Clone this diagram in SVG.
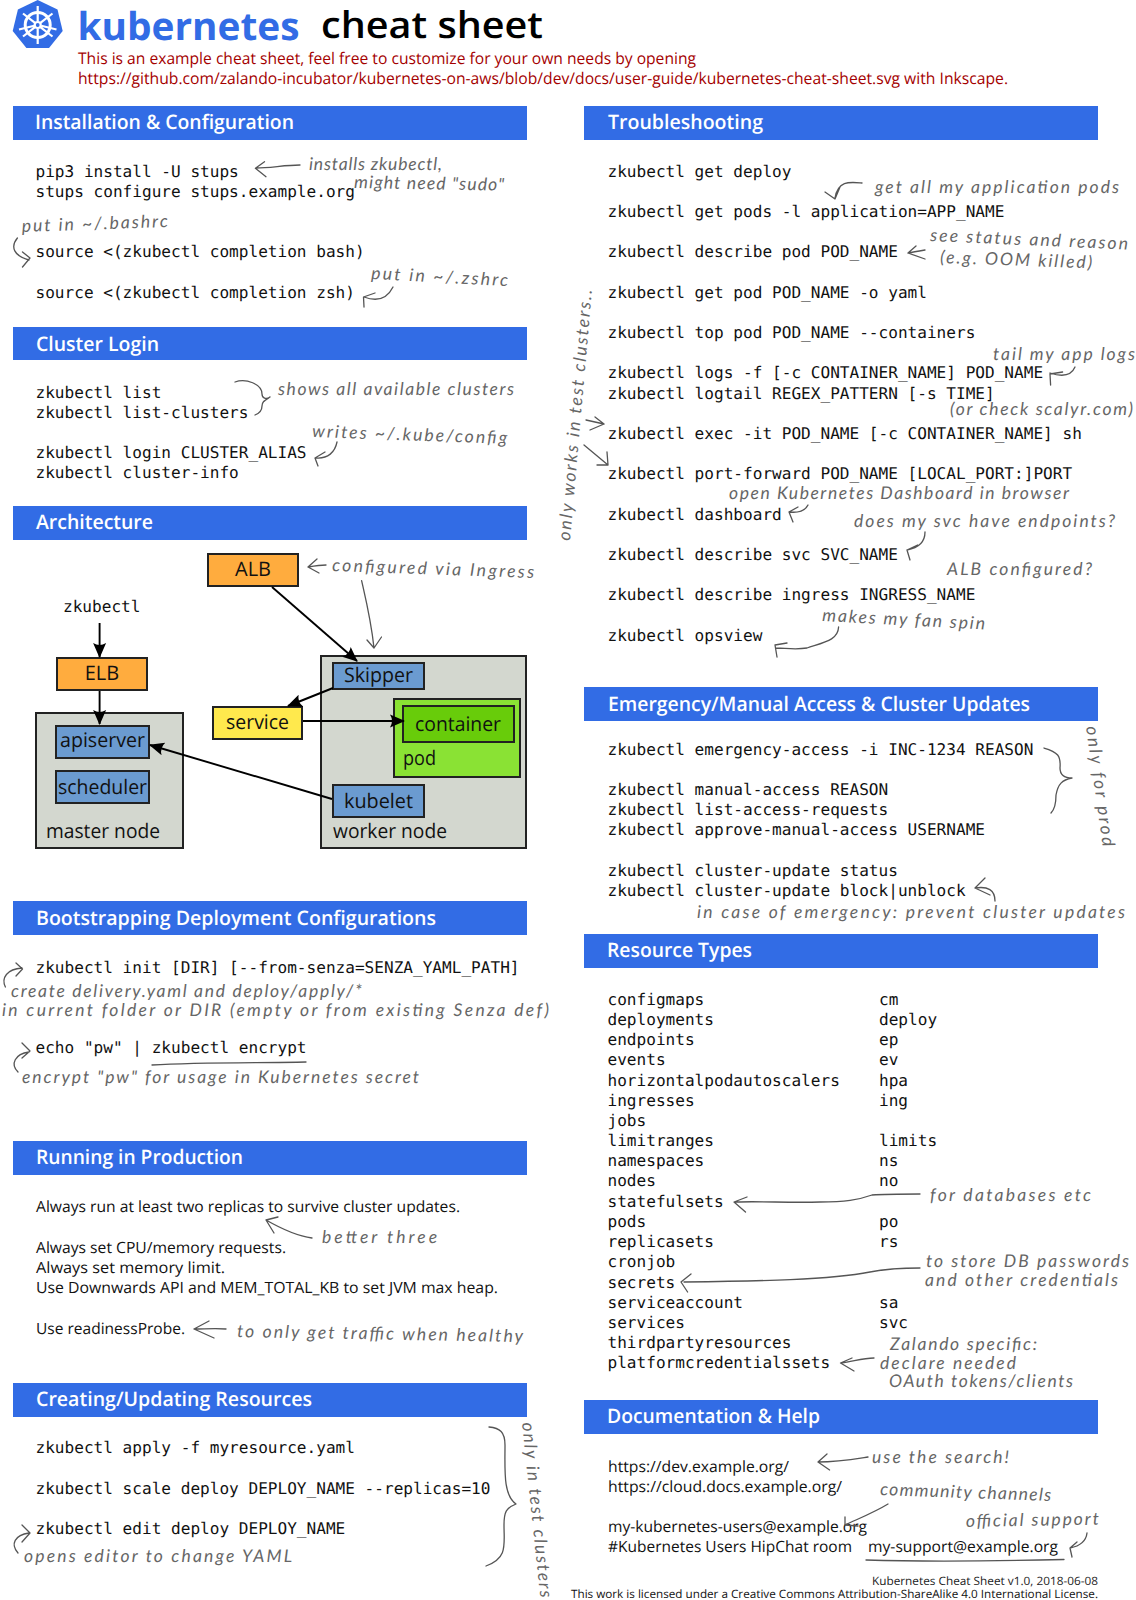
<svg xmlns="http://www.w3.org/2000/svg" width="1136" height="1600" viewBox="0 0 1136 1600">
<style>
text{white-space:pre;text-rendering:geometricPrecision}
.m{font:16.08px "DejaVu Sans Mono",monospace;fill:#111}
.b{fill:#326ce5}
.h{font:600 20px "Open Sans",sans-serif;fill:#fff}
.s{font:15.5px "Open Sans",sans-serif;fill:#111}
.n{font:20px "Open Sans",sans-serif;fill:#111}
.a{font:italic 400 17.5px Lato,sans-serif;fill:#666}
.box{stroke:#222;stroke-width:2}
.g{fill:none;stroke:#555;stroke-width:1.3;stroke-linecap:round;stroke-linejoin:round}
.k{fill:none;stroke:#000;stroke-width:1.9}
</style>
<defs>
<marker id="ah" markerUnits="userSpaceOnUse" markerWidth="18" markerHeight="16" refX="14" refY="8" orient="auto"><path d="M0 1.500 L15 8 L0 14.500 Q4 8 0 1.500Z" fill="#000"/></marker>
</defs>
<rect width="1136" height="1600" fill="#fff"/>
<g id="header">
<g id="logo">
<polygon points="37.700,0 57.500,9.500 62.700,31 49,48 26.400,48 12.700,31 17.900,9.500" fill="#326ce5"/>
<g fill="none" stroke="#fff">
<circle cx="37.700" cy="25" r="12.500" stroke-width="3"/>
<circle cx="37.700" cy="25" r="3" stroke-width="2.200"/>
<path stroke-width="2.200" d="M37.700 6V21.500M37.700 28.500V44M23 13.500L35 22.800M40.400 27.200L52.500 36.500M52.500 13.500L40.400 22.800M35 27.200L23 36.500M19 29.500L34.200 25.800M41.200 25.800L56.500 29.500"/>
</g>
</g>
<text x="77.500" y="40" font-family="Open Sans,sans-serif" font-weight="700" font-size="38.500" fill="#326ce5" textLength="222" lengthAdjust="spacingAndGlyphs">kubernetes</text>
<text x="321" y="37.500" font-family="Open Sans,sans-serif" font-weight="600" font-size="37" fill="#000" textLength="222" lengthAdjust="spacingAndGlyphs">cheat sheet</text>
<text x="78" y="64" font-family="Open Sans,sans-serif" font-size="16" fill="#a40000" textLength="618" lengthAdjust="spacingAndGlyphs">This is an example cheat sheet, feel free to customize for your own needs by opening</text>
<text x="78" y="84" font-family="Open Sans,sans-serif" font-size="16" fill="#a40000" textLength="930" lengthAdjust="spacingAndGlyphs">https://github.com/zalando-incubator/kubernetes-on-aws/blob/dev/docs/user-guide/kubernetes-cheat-sheet.svg with Inkscape.</text>
</g>

<g id="installation">
<rect class="b" x="13" y="106" width="514" height="34"/>
<text class="h" x="35" y="129" textLength="259" lengthAdjust="spacingAndGlyphs">Installation &amp; Configuration</text>
<text class="m" x="35.500" y="177">pip3 install -U stups</text>
<text class="m" x="35.500" y="197">stups configure stups.example.org</text>
<text class="m" x="35.500" y="257">source &lt;(zkubectl completion bash)</text>
<text class="m" x="35.500" y="298">source &lt;(zkubectl completion zsh)</text>
<text class="a" x="309" y="170" textLength="133">installs zkubectl,</text>
<text class="a" x="354" y="188" textLength="150" transform="rotate(1 354 188)">might need "sudo"</text>
<text class="a" x="22" y="232" textLength="146" transform="rotate(-2 22 232)">put in ~/.bashrc</text>
<text class="a" x="371" y="279" textLength="137" transform="rotate(3 371 279)">put in ~/.zshrc</text>
</g>

<g id="cluster-login">
<rect class="b" x="13" y="327" width="514" height="33"/>
<text class="h" x="36" y="351" textLength="123" lengthAdjust="spacingAndGlyphs">Cluster Login</text>
<text class="m" x="35.500" y="397.500">zkubectl list</text>
<text class="m" x="35.500" y="417.500">zkubectl list-clusters</text>
<text class="m" x="35.500" y="458">zkubectl login CLUSTER_ALIAS</text>
<text class="m" x="35.500" y="478">zkubectl cluster-info</text>
<text class="a" x="278" y="395" textLength="236">shows all available clusters</text>
<text class="a" x="312" y="437" textLength="195" transform="rotate(2 312 437)">writes ~/.kube/config</text>
</g>

<g id="architecture">
<rect class="b" x="13" y="506" width="514" height="34"/>
<text class="h" x="36" y="529" textLength="117" lengthAdjust="spacingAndGlyphs">Architecture</text>
<text class="a" x="332" y="571" textLength="202" transform="rotate(2 332 571)">configured via Ingress</text>
</g>
<g id="master-node"><rect class="box" x="36" y="713" width="147" height="135" fill="#d3d7cf"/><text class="n" x="46" y="838" textLength="114" lengthAdjust="spacingAndGlyphs">master node</text></g>
<g id="worker-node"><rect class="box" x="321" y="656" width="205" height="192" fill="#d3d7cf"/><text class="n" x="333" y="838" textLength="114" lengthAdjust="spacingAndGlyphs">worker node</text></g>
<g id="zkubectl"><text class="m" x="63" y="612">zkubectl</text></g>
<g id="alb"><rect class="box" x="208" y="554" width="90" height="32" fill="#ffac3e"/><text class="n" x="253" y="576" text-anchor="middle">ALB</text></g>
<g id="elb"><rect class="box" x="57" y="658" width="90" height="32" fill="#ffac3e"/><text class="n" x="102" y="680" text-anchor="middle">ELB</text></g>
<g id="apiserver"><rect class="box" x="56" y="726" width="93" height="32" fill="#6b9bd0"/><text class="n" x="60" y="747" textLength="85" lengthAdjust="spacingAndGlyphs">apiserver</text></g>
<g id="scheduler"><rect class="box" x="56" y="771" width="93" height="32" fill="#6b9bd0"/><text class="n" x="58" y="794" textLength="89" lengthAdjust="spacingAndGlyphs">scheduler</text></g>
<g id="skipper"><rect class="box" x="333" y="663" width="91" height="26" fill="#6b9bd0"/><text class="n" x="344" y="682" textLength="69" lengthAdjust="spacingAndGlyphs">Skipper</text></g>
<g id="service"><rect class="box" x="213" y="707" width="89" height="32" fill="#ffe94d"/><text class="n" x="226" y="729" textLength="63" lengthAdjust="spacingAndGlyphs">service</text></g>
<g id="pod"><rect class="box" x="394" y="699" width="126" height="78" fill="#8ae234"/><text class="n" x="403" y="765" textLength="33" lengthAdjust="spacingAndGlyphs">pod</text></g>
<g id="container"><rect class="box" x="403" y="706" width="111" height="36" fill="#68cc0a"/><text class="n" x="415" y="731" textLength="86" lengthAdjust="spacingAndGlyphs">container</text></g>
<g id="kubelet"><rect class="box" x="333" y="785" width="91" height="32" fill="#6b9bd0"/><text class="n" x="344" y="808" textLength="69" lengthAdjust="spacingAndGlyphs">kubelet</text></g>

<g id="bootstrapping">
<rect class="b" x="13" y="901" width="514" height="34"/>
<text class="h" x="36" y="925" textLength="400" lengthAdjust="spacingAndGlyphs">Bootstrapping Deployment Configurations</text>
<text class="m" x="35.500" y="973">zkubectl init [DIR] [--from-senza=SENZA_YAML_PATH]</text>
<text class="a" x="11" y="997" textLength="351">create delivery.yaml and deploy/apply/*</text>
<text class="a" x="2" y="1016" textLength="547">in current folder or DIR (empty or from existing Senza def)</text>
<text class="m" x="35.500" y="1053">echo "pw" | zkubectl encrypt</text>
<text class="a" x="22" y="1083" textLength="397">encrypt "pw" for usage in Kubernetes secret</text>
</g>

<g id="production">
<rect class="b" x="13" y="1141" width="514" height="34"/>
<text class="h" x="36" y="1164" textLength="207" lengthAdjust="spacingAndGlyphs">Running in Production</text>
<text class="s" x="36" y="1212" textLength="424" lengthAdjust="spacingAndGlyphs">Always run at least two replicas to survive cluster updates.</text>
<text class="s" x="36" y="1253" textLength="250" lengthAdjust="spacingAndGlyphs">Always set CPU/memory requests.</text>
<text class="s" x="36" y="1273" textLength="189" lengthAdjust="spacingAndGlyphs">Always set memory limit.</text>
<text class="s" x="36" y="1293" textLength="462" lengthAdjust="spacingAndGlyphs">Use Downwards API and MEM_TOTAL_KB to set JVM max heap.</text>
<text class="s" x="36" y="1334" textLength="149" lengthAdjust="spacingAndGlyphs">Use readinessProbe.</text>
<text class="a" x="322" y="1243" textLength="115">better three</text>
<text class="a" x="237" y="1337" textLength="286" transform="rotate(1 237 1337)">to only get traffic when healthy</text>
</g>

<g id="creating">
<rect class="b" x="13" y="1383" width="514" height="34"/>
<text class="h" x="36" y="1406" textLength="276" lengthAdjust="spacingAndGlyphs">Creating/Updating Resources</text>
<text class="m" x="35.500" y="1453">zkubectl apply -f myresource.yaml</text>
<text class="m" x="35.500" y="1493.500">zkubectl scale deploy DEPLOY_NAME --replicas=10</text>
<text class="m" x="35.500" y="1534">zkubectl edit deploy DEPLOY_NAME</text>
<text class="a" x="24" y="1562" textLength="268">opens editor to change YAML</text>
<text class="a" x="522" y="1423" textLength="176" transform="rotate(84 522 1423)">only in test clusters</text>
</g>

<g id="troubleshooting">
<rect class="b" x="584" y="106" width="514" height="34"/>
<text class="h" x="608" y="129" textLength="155" lengthAdjust="spacingAndGlyphs">Troubleshooting</text>
<text class="m" x="607.500" y="177">zkubectl get deploy</text>
<text class="m" x="607.500" y="217">zkubectl get pods -l application=APP_NAME</text>
<text class="m" x="607.500" y="257">zkubectl describe pod POD_NAME</text>
<text class="m" x="607.500" y="298">zkubectl get pod POD_NAME -o yaml</text>
<text class="m" x="607.500" y="338">zkubectl top pod POD_NAME --containers</text>
<text class="m" x="607.500" y="378">zkubectl logs -f [-c CONTAINER_NAME] POD_NAME</text>
<text class="m" x="607.500" y="398.500">zkubectl logtail REGEX_PATTERN [-s TIME]</text>
<text class="m" x="607.500" y="439">zkubectl exec -it POD_NAME [-c CONTAINER_NAME] sh</text>
<text class="m" x="607.500" y="479">zkubectl port-forward POD_NAME [LOCAL_PORT:]PORT</text>
<text class="m" x="607.500" y="519.500">zkubectl dashboard</text>
<text class="m" x="607.500" y="560">zkubectl describe svc SVC_NAME</text>
<text class="m" x="607.500" y="600">zkubectl describe ingress INGRESS_NAME</text>
<text class="m" x="607.500" y="640.500">zkubectl opsview</text>
<text class="a" x="875" y="193" textLength="244">get all my application pods</text>
<text class="a" x="930" y="241" textLength="198" transform="rotate(2.5 930 241)">see status and reason</text>
<text class="a" x="940" y="263" textLength="152" transform="rotate(2 940 263)">(e.g. OOM killed)</text>
<text class="a" x="993" y="360" textLength="142">tail my app logs</text>
<text class="a" x="950" y="414.500" textLength="183">(or check scalyr.com)</text>
<text class="a" x="729" y="499" textLength="340">open Kubernetes Dashboard in browser</text>
<text class="a" x="854" y="527" textLength="261">does my svc have endpoints?</text>
<text class="a" x="947" y="575" textLength="145">ALB configured?</text>
<text class="a" x="822" y="621" textLength="163" transform="rotate(3 822 621)">makes my fan spin</text>
<text class="a" x="570" y="541" textLength="252" transform="rotate(-85 570 541)">only works in test clusters..</text>
</g>

<g id="emergency">
<rect class="b" x="584" y="687" width="514" height="34"/>
<text class="h" x="608" y="711" textLength="422" lengthAdjust="spacingAndGlyphs">Emergency/Manual Access &amp; Cluster Updates</text>
<text class="m" x="607.500" y="754.500">zkubectl emergency-access -i INC-1234 REASON</text>
<text class="m" x="607.500" y="794.500">zkubectl manual-access REASON</text>
<text class="m" x="607.500" y="815">zkubectl list-access-requests</text>
<text class="m" x="607.500" y="835">zkubectl approve-manual-access USERNAME</text>
<text class="m" x="607.500" y="875.500">zkubectl cluster-update status</text>
<text class="m" x="607.500" y="896">zkubectl cluster-update block|unblock</text>
<text class="a" x="697" y="918" textLength="428">in case of emergency: prevent cluster updates</text>
<text class="a" x="1086" y="727" textLength="121" transform="rotate(82 1086 727)">only for prod</text>
</g>

<g id="resource-types">
<rect class="b" x="584" y="934" width="514" height="34"/>
<text class="h" x="607" y="957" textLength="145" lengthAdjust="spacingAndGlyphs">Resource Types</text>
<text class="m" x="607.500" y="1005">configmaps</text><text class="m" x="879" y="1005">cm</text>
<text class="m" x="607.500" y="1025">deployments</text><text class="m" x="879" y="1025">deploy</text>
<text class="m" x="607.500" y="1045">endpoints</text><text class="m" x="879" y="1045">ep</text>
<text class="m" x="607.500" y="1065">events</text><text class="m" x="879" y="1065">ev</text>
<text class="m" x="607.500" y="1085.500">horizontalpodautoscalers</text><text class="m" x="879" y="1085.500">hpa</text>
<text class="m" x="607.500" y="1105.500">ingresses</text><text class="m" x="879" y="1105.500">ing</text>
<text class="m" x="607.500" y="1126">jobs</text>
<text class="m" x="607.500" y="1146">limitranges</text><text class="m" x="879" y="1146">limits</text>
<text class="m" x="607.500" y="1166">namespaces</text><text class="m" x="879" y="1166">ns</text>
<text class="m" x="607.500" y="1186">nodes</text><text class="m" x="879" y="1186">no</text>
<text class="m" x="607.500" y="1206.500">statefulsets</text>
<text class="m" x="607.500" y="1227">pods</text><text class="m" x="879" y="1227">po</text>
<text class="m" x="607.500" y="1247">replicasets</text><text class="m" x="879" y="1247">rs</text>
<text class="m" x="607.500" y="1267">cronjob</text>
<text class="m" x="607.500" y="1287.500">secrets</text>
<text class="m" x="607.500" y="1308">serviceaccount</text><text class="m" x="879" y="1308">sa</text>
<text class="m" x="607.500" y="1328">services</text><text class="m" x="879" y="1328">svc</text>
<text class="m" x="607.500" y="1348">thirdpartyresources</text>
<text class="m" x="607.500" y="1368">platformcredentialssets</text>
<text class="a" x="930" y="1201" textLength="161">for databases etc</text>
<text class="a" x="926" y="1267" textLength="203">to store DB passwords</text>
<text class="a" x="925" y="1286" textLength="193">and other credentials</text>
<text class="a" x="890" y="1350" textLength="147">Zalando specific:</text>
<text class="a" x="880" y="1369" textLength="136">declare needed</text>
<text class="a" x="889" y="1387" textLength="184">OAuth tokens/clients</text>
</g>

<g id="documentation">
<rect class="b" x="584" y="1400" width="514" height="34"/>
<text class="h" x="607" y="1423" textLength="213" lengthAdjust="spacingAndGlyphs">Documentation &amp; Help</text>
<text class="s" x="608" y="1472" textLength="181" lengthAdjust="spacingAndGlyphs">https://dev.example.org/</text>
<text class="s" x="608" y="1492" textLength="234" lengthAdjust="spacingAndGlyphs">https://cloud.docs.example.org/</text>
<text class="s" x="608" y="1532" textLength="259" lengthAdjust="spacingAndGlyphs">my-kubernetes-users@example.org</text>
<text class="s" x="608" y="1552" textLength="244" lengthAdjust="spacingAndGlyphs">#Kubernetes Users HipChat room</text>
<text class="s" x="868" y="1552" textLength="190" lengthAdjust="spacingAndGlyphs">my-support@example.org</text>
<text class="a" x="872" y="1463" textLength="137">use the search!</text>
<text class="a" x="880" y="1495" textLength="171" transform="rotate(2 880 1495)">community channels</text>
<text class="a" x="966" y="1527" textLength="133" transform="rotate(-1 966 1527)">official support</text>
<text x="1098" y="1585" text-anchor="end" font-family="Open Sans,sans-serif" font-size="11.500" fill="#222" textLength="226" lengthAdjust="spacingAndGlyphs">Kubernetes Cheat Sheet v1.0, 2018-06-08</text>
<text x="1098" y="1598" text-anchor="end" font-family="Open Sans,sans-serif" font-size="11.500" fill="#111" textLength="527" lengthAdjust="spacingAndGlyphs">This work is licensed under a Creative Commons Attribution-ShareAlike 4.0 International License.</text>
</g>

<g id="connectors">
<g class="k">
<path marker-end="url(#ah)" d="M99.600 623V657"/>
<path marker-end="url(#ah)" d="M99.600 691V724"/>
<path marker-end="url(#ah)" d="M272 587L357 661"/>
<path marker-end="url(#ah)" d="M333 688L288 706"/>
<path marker-end="url(#ah)" d="M303 721H404"/>
<path marker-end="url(#ah)" d="M332 799L150 745"/>
</g>
<g class="g">
<path d="M300 165C285 165 270 168 256 168M264.500 161.700L255.400 168.300L266 176.700"/>
<path d="M17.400 238C10 247 14 256 29 260M22.500 252L30 258L22.500 267"/>
<path d="M393 287C388 297 380 303 364 297M375 293L363.500 297L364 307"/>
<path d="M235 382C246 378 262 384 262 394C262 398 266 400 270 397C264 401 262 402 262 406C262 410 260 413 255 415"/>
<path d="M337 442C335 452 328 459 316 458M325 452L315 458L318 466"/>
<path d="M326 565C320 565 314 566 308 567M317 559L308 567L319 573"/>
<path d="M361.600 580.700C366 600 371 620 374 648M367 640L374 648L381.500 637"/>
<path d="M5.400 987C1 978 7 969 22 968M16 963L22.500 969L16 976"/>
<path d="M18 1072C10 1064 15 1054 29 1052M22 1043L30 1051L22 1058"/>
<path d="M152 1065C200 1062 260 1063 306 1062"/>
<path d="M312 1238C297 1236 280 1228 266 1220M278 1217L266 1220L274 1233"/>
<path d="M226 1329C216 1328 204 1329 194 1329M209 1321L194 1329L214 1338"/>
<path d="M489 1427C500 1428 505 1432 505 1445C505 1470 503 1495 516 1504C506 1508 504 1512 504 1525C504 1545 508 1558 486 1566"/>
<path d="M18 1553C10 1544 15 1535 29 1533M22 1525L30 1533L22 1542"/>
<path d="M862 183C850 182 838 180 835 198M825 192L835 199L840 187"/>
<path d="M925 250C919 251 913 252 908 253M916 246L908 253L925 259"/>
<path d="M1075 367C1072 374 1065 378 1050 373M1062.600 372L1050 374L1050.600 385"/>
<path d="M586 420L604 424M595 417L604 424L590 430"/>
<path d="M584 445L608 465M607 452L608 465L597 465"/>
<path d="M808 505C805 511 798 513 789 512M798 507L789 512L793 522"/>
<path d="M925 532C925 543 918 548 907 550M917.600 545L907 550L910 560"/>
<path d="M838.600 627C838 640 825 642 807 648C795 650 785 648 776 648M787 643L775 645L777 657"/>
<path d="M1044 748C1058 752 1061 756 1060 768C1060 775 1065 778 1072 778C1062 780 1058 784 1056 795C1056 805 1054 810 1051 813"/>
<path d="M995 901C995 890 988 886 975 888M985 878L975 888L990 895"/>
<path d="M920 1194C900 1194 885 1194 872 1195C858 1200 845 1202 820 1202C790 1203 760 1201 736 1202M747 1197L734 1202L745.500 1212"/>
<path d="M920 1268C900 1268 885 1269 870 1272C830 1280 760 1281 684 1282M691 1274L681 1282L687.600 1292"/>
<path d="M874 1358C862 1358 852 1362 841.500 1363M852 1358L840.500 1363L854 1371"/>
<path d="M868 1457C855 1459 838 1462 818 1462M827 1454L818 1462L829.600 1470"/>
<path d="M888 1504C875 1512 860 1518 845 1525M845 1517V1525L858 1526"/>
<path d="M1087 1533C1086 1542 1080 1546 1070 1548M1077 1542L1070 1548L1072 1557"/>
<path d="M866 1560C930 1562 1000 1561 1064 1559.500"/>
</g>
</g>
</svg>
